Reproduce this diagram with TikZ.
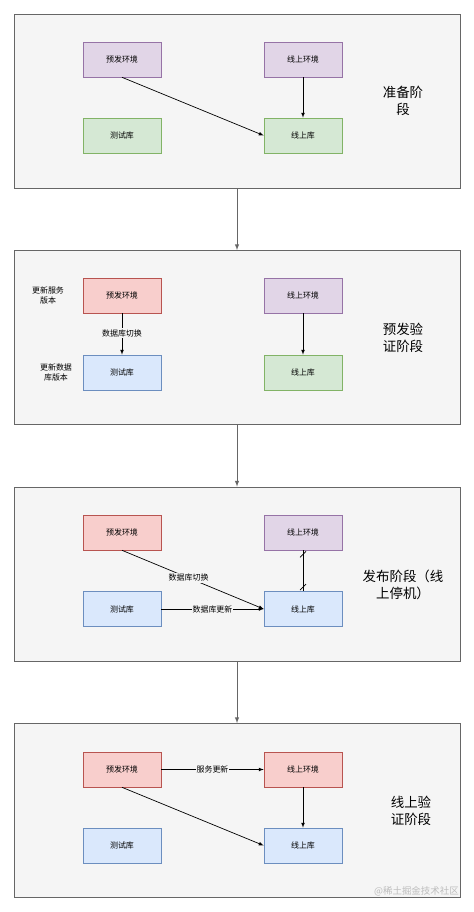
\documentclass[tikz,border=0pt]{standalone}
\usepackage{fontspec}
\setmainfont{Noto Sans CJK SC}
\usepackage{tikz}
\usetikzlibrary{arrows,shapes,decorations.markings}

\definecolor{panelfill}{HTML}{F5F5F5}
\definecolor{panelline}{HTML}{666666}
\definecolor{purplefill}{HTML}{E1D5E7}
\definecolor{purpleline}{HTML}{9673A6}
\definecolor{greenfill}{HTML}{D5E8D4}
\definecolor{greenline}{HTML}{82B366}
\definecolor{redfill}{HTML}{F8CECC}
\definecolor{redline}{HTML}{B85450}
\definecolor{bluefill}{HTML}{DAE8FC}
\definecolor{blueline}{HTML}{6C8EBF}
\definecolor{markgray}{HTML}{BDBDBD}

\tikzset{
  panel/.style={draw=panelline,fill=panelfill,line width=0.8bp,minimum width=446bp,minimum height=174bp,inner sep=0pt},
  envbox/.style={draw,line width=0.6bp,minimum width=78bp,minimum height=35bp,inner sep=0pt,font=\fontsize{8}{10}\selectfont},
  purplebox/.style={envbox,draw=purpleline,fill=purplefill},
  greenbox/.style={envbox,draw=greenline,fill=greenfill},
  redbox/.style={envbox,draw=redline,fill=redfill},
  bluebox/.style={envbox,draw=blueline,fill=bluefill},
  stagelabel/.style={align=center,font=\fontsize{13.5}{17}\selectfont},
  sidelabel/.style={align=center,font=\fontsize{8}{10}\selectfont},
  edgelabel/.style={fill=panelfill,inner sep=1bp,font=\fontsize{8}{10}\selectfont},
  flow/.style={-latex,line width=0.7bp},
  stageflow/.style={-latex,draw=panelline,line width=1bp},
  cutline/.style={line width=0.7bp,postaction={decorate},
    decoration={markings,
      mark=at position 4bp with {\draw[line width=0.7bp] (3bp,-3bp) -- (-3bp,3bp);},
      mark=at position -4bp with {\draw[line width=0.7bp] (3bp,-3bp) -- (-3bp,3bp);}}}
}

\begin{document}
\begin{tikzpicture}
\useasboundingbox[fill=white] (0,0) rectangle (474bp,-912bp);

% panels
\node (P1) at (237bp,-101bp)[panel] {};
\node (P2) at (237bp,-337.5bp)[panel] {};
\node (P3) at (237bp,-574bp)[panel] {};
\node (P4) at (237bp,-810.5bp)[panel] {};
\draw [stageflow] (P1) -- (P2);
\draw [stageflow] (P2) -- (P3);
\draw [stageflow] (P3) -- (P4);

% 准备阶段
\node (Y1) at (122bp,-59.5bp)[purplebox] {预发环境};
\node (X1) at (303bp,-59.5bp)[purplebox] {线上环境};
\node (T1) at (122bp,-135.5bp)[greenbox] {测试库};
\node (L1) at (303bp,-135.5bp)[greenbox] {线上库};
\node (S1) at (403bp,-101bp)[stagelabel] {准备阶\\段};
\draw [flow] (Y1.south) -- (L1.west);
\draw [flow] (X1) -- (L1);

% 预发验证阶段
\node (Y2) at (122bp,-295.5bp)[redbox] {预发环境};
\node (X2) at (303bp,-295.5bp)[purplebox] {线上环境};
\node (T2) at (122bp,-372.5bp)[bluebox] {测试库};
\node (L2) at (303bp,-372.5bp)[greenbox] {线上库};
\node (S2) at (403bp,-337.5bp)[stagelabel] {预发验\\证阶段};
\node (A2) at (48bp,-295.5bp)[sidelabel] {更新服务\\版本};
\node (B2) at (56bp,-372bp)[sidelabel] {更新数据\\库版本};
\draw [flow] (Y2) -- node[edgelabel,pos=0.48] {数据库切换} (T2);
\draw [flow] (X2) -- (L2);

% 发布阶段
\node (Y3) at (122bp,-532.5bp)[redbox] {预发环境};
\node (X3) at (303bp,-532.5bp)[purplebox] {线上环境};
\node (T3) at (122bp,-609bp)[bluebox] {测试库};
\node (L3) at (303bp,-609bp)[bluebox] {线上库};
\node (S3) at (403bp,-585bp)[stagelabel] {发布阶段（线\\上停机）};
\draw [flow] (Y3.south) -- node[edgelabel,pos=0.47] {数据库切换} (L3.west);
\draw [flow] (T3) -- node[edgelabel] {数据库更新} (L3);
\draw [cutline] (X3) -- (L3);

% 线上验证阶段
\node (Y4) at (122bp,-769.5bp)[redbox] {预发环境};
\node (X4) at (303bp,-769.5bp)[redbox] {线上环境};
\node (T4) at (122bp,-845.5bp)[bluebox] {测试库};
\node (L4) at (303bp,-845.5bp)[bluebox] {线上库};
\node (S4) at (411bp,-811bp)[stagelabel] {线上验\\证阶段};
\draw [flow] (Y4) -- node[edgelabel] {服务更新} (X4);
\draw [flow] (X4) -- (L4);
\draw [flow] (Y4.south) -- (L4.west);

\node (W) at (459bp,-891bp)[anchor=east,text=markgray,inner sep=0pt,font=\fontsize{9.5}{11}\selectfont] {@稀土掘金技术社区};
\end{tikzpicture}
\end{document}
